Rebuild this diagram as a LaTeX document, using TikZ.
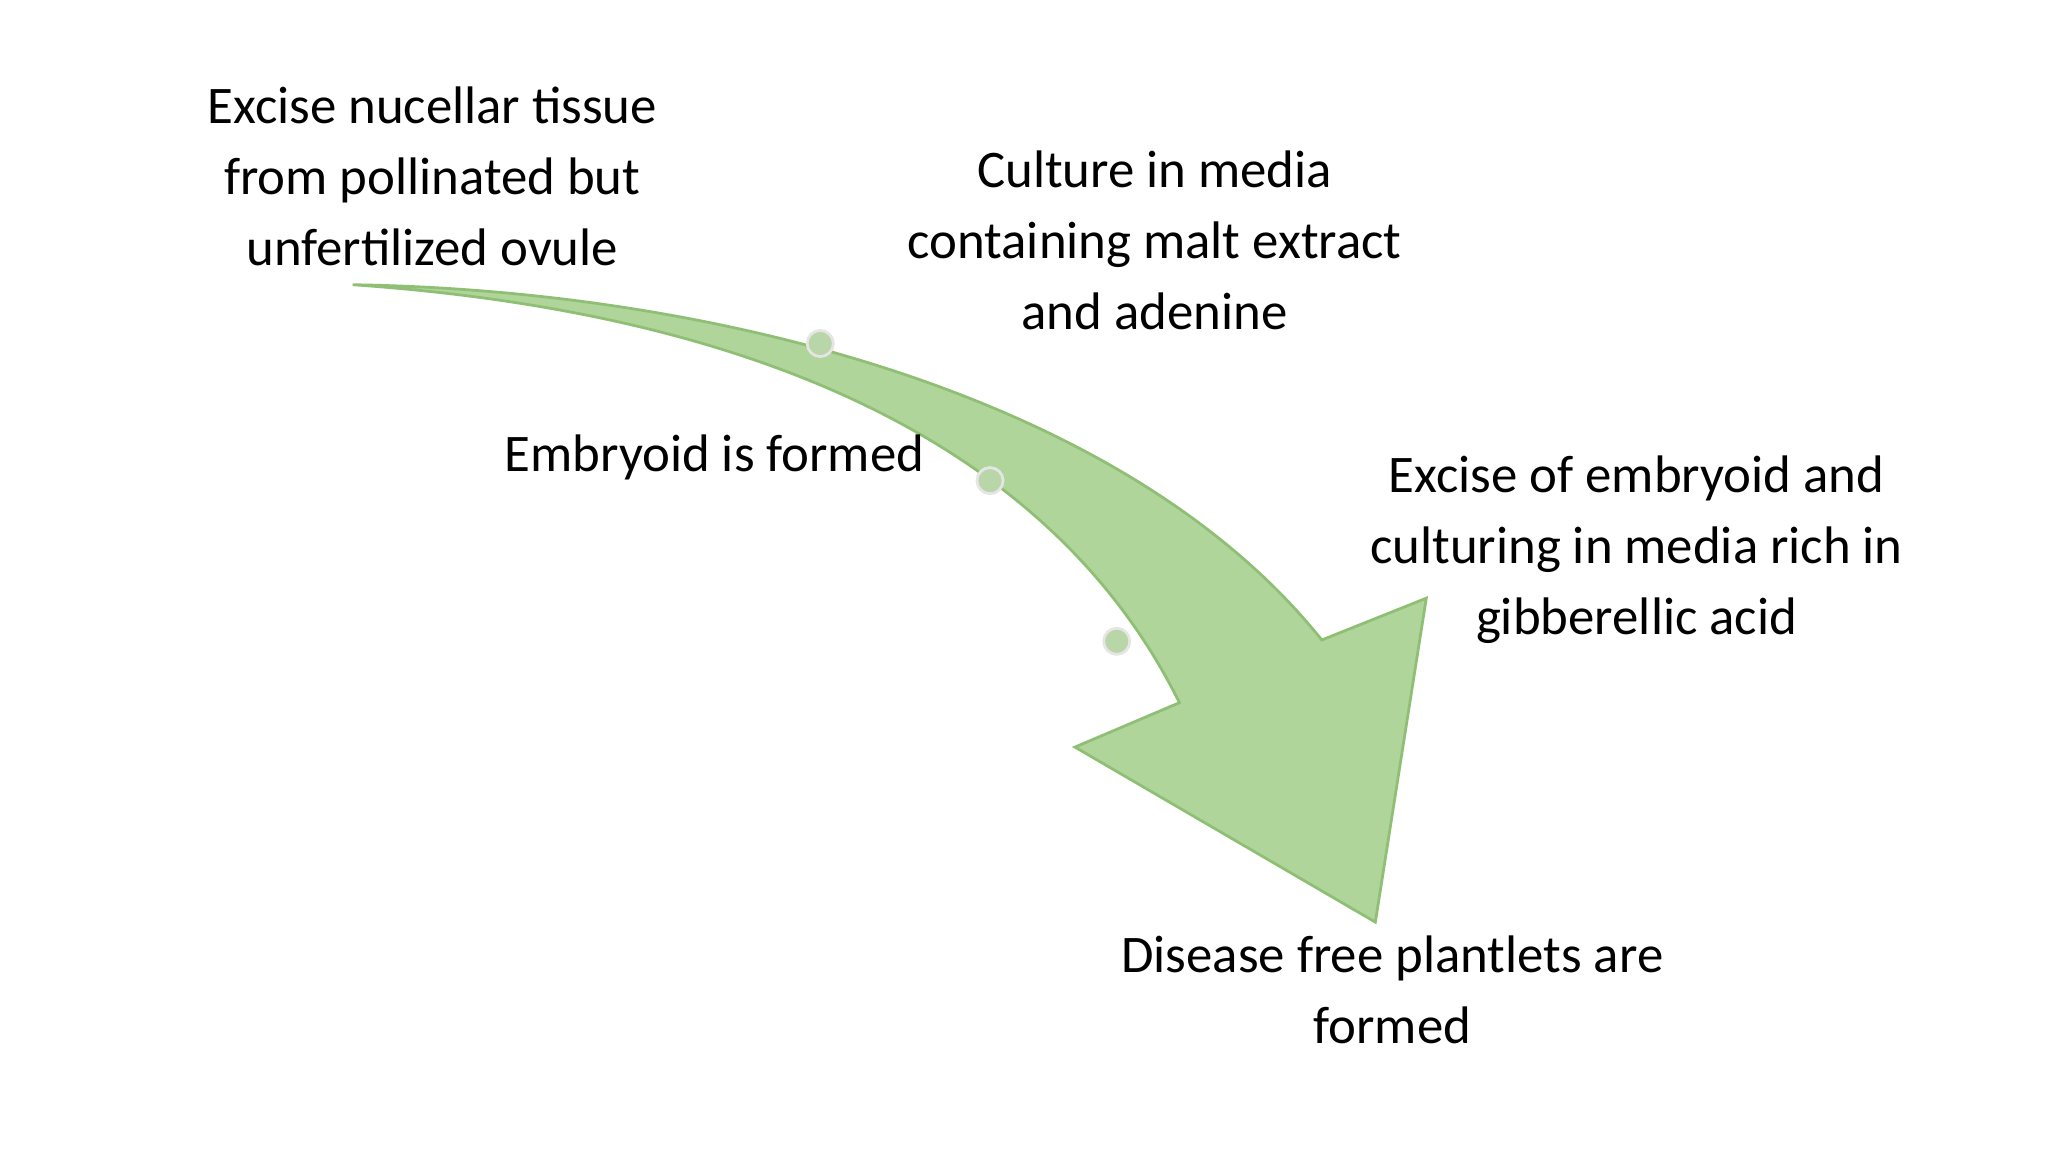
\documentclass[tikz,border=0pt]{standalone}
\usepackage{fontspec}
\setmainfont{Carlito}
\definecolor{arrfill}{HTML}{AFD59A}
\definecolor{arredge}{HTML}{8FBF74}
\definecolor{dotc}{HTML}{B9D6A8}
\tikzset{lbl/.style={align=center,font=\fontsize{11.5}{15.5}\selectfont,text=black,inner sep=0pt},
 dot/.style={circle,fill=dotc,draw=white!80!gray,line width=0.6pt,minimum size=0.2cm,inner sep=0pt}}
\begin{document}
\begin{tikzpicture}[x=0.01cm,y=-0.01cm]
\useasboundingbox (0,0) rectangle (1568,882);
\fill[white] (0,0) rectangle (1568,882);
\filldraw[fill=arrfill,draw=arredge,line width=0.6pt]
 (270,218) .. controls (540,222) and (860,300) .. (1012,490)
 -- (1092,458) -- (1053,706) -- (823,572) -- (903,538)
 .. controls (800,330) and (560,238) .. (270,218) -- cycle;
\node[dot] (d1) at (628,263) {};
\node[dot] (d2) at (758,368) {};
\node[dot] (d3) at (855,491) {};
\node[lbl] (t1) at (331,135) {Excise nucellar tissue\\from pollinated but\\unfertilized ovule};
\node[lbl] (t2) at (884,184) {Culture in media\\containing malt extract\\and adenine};
\node[lbl] (t3) at (547,350) {Embryoid is formed};
\node[lbl] (t4) at (1253,421) {Excise of embryoid and\\culturing in media rich in\\gibberellic acid};
\node[lbl] (t5) at (1066,758) {Disease free plantlets are\\formed};
\end{tikzpicture}
\end{document}
